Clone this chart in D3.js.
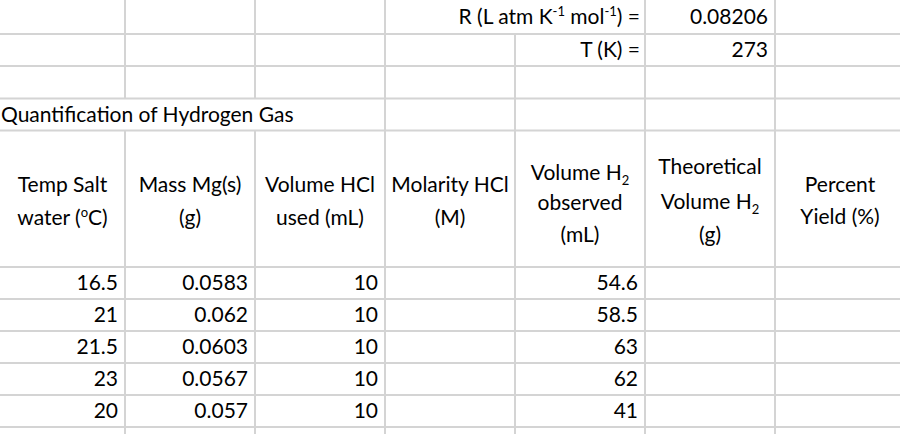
<!DOCTYPE html>
<html>
<head>
<meta charset="utf-8">
<script src="https://cdn.jsdelivr.net/npm/d3@7"></script>
<style>
  body { margin: 0; background: #fff; }
  text { font-family: Lato, "Open Sans", sans-serif; font-size: 21px; fill: #000; }
</style>
</head>
<body>
<svg id="sheet" width="900" height="434"></svg>
<script>
// ---- data ----
const constLabels = [
  [{t: "R (L atm K"}, {t: "-1", sup: true}, {t: " mol"}, {t: "-1", sup: true}, {t: ") ="}],
  [{t: "T (K) ="}]
];
const constValues = ["0.08206", "273"];
const title = "Quantification of Hydrogen Gas";
const headers = [
  [[{t: "Temp Salt"}], [{t: "water ("}, {t: "o", sup: true}, {t: "C)"}]],
  [[{t: "Mass Mg(s)"}], [{t: "(g)"}]],
  [[{t: "Volume HCl"}], [{t: "used (mL)"}]],
  [[{t: "Molarity HCl"}], [{t: "(M)"}]],
  [[{t: "Volume H"}, {t: "2", sub: true}], [{t: "observed"}], [{t: "(mL)"}]],
  [[{t: "Theoretical"}], [{t: "Volume H"}, {t: "2", sub: true}], [{t: "(g)"}]],
  [[{t: "Percent"}], [{t: "Yield (%)"}]]
];
const tempC   = ["16.5", "21", "21.5", "23", "20"];
const massMg  = ["0.0583", "0.062", "0.0603", "0.0567", "0.057"];
const volHCl  = ["10", "10", "10", "10", "10"];
const volH2   = ["54.6", "58.5", "63", "62", "41"];

// ---- layout ----
const svg = d3.select("#sheet");
const colEdges = [0, 125, 255, 385, 515, 645, 775, 905];
const rowEdges = [0, 34, 66, 98.5, 130.5, 267, 299, 331, 363, 395, 427, 459];
const x = i => colEdges[i];
const grid = svg.append("g").attr("stroke", "#d4d4d4").attr("stroke-width", 2);

// horizontal lines
rowEdges.slice(1).forEach(y => grid.append("line").attr("x1", 0).attr("x2", 900).attr("y1", y).attr("y2", y));

// vertical lines per row, skipping merged/overflow spans
const skip = {0: [4], 3: [1, 2]};
for (let r = 0; r < rowEdges.length - 1; r++) {
  for (let c = 1; c < colEdges.length - 1; c++) {
    if ((skip[r] || []).includes(c)) continue;
    grid.append("line").attr("x1", x(c)).attr("x2", x(c)).attr("y1", rowEdges[r]).attr("y2", rowEdges[r + 1]);
  }
}

// text with super/subscript runs; shift is undone on the following run
function rich(sel, parts) {
  let shift = 0;
  parts.forEach(p => {
    const ts = sel.append("tspan").text(p.t);
    const want = p.sup ? -8 : p.sub ? 5 : 0;
    if (want - shift) ts.attr("dy", want - shift);
    if (p.sup || p.sub) ts.attr("font-size", 13);
    shift = want;
  });
}
const mid = r => (rowEdges[r] + rowEdges[r + 1]) / 2;

// constants
constLabels.forEach((lab, i) => {
  rich(svg.append("text").attr("x", x(5) - 5).attr("y", mid(i)).attr("dy", "0.35em").attr("text-anchor", "end"), lab);
  svg.append("text").attr("x", x(6) - 7).attr("y", mid(i)).attr("dy", "0.35em").attr("text-anchor", "end").text(constValues[i]);
});

// title
svg.append("text").attr("x", 1).attr("y", mid(3)).attr("dy", "0.35em").text(title);

// headers
const lineY = [[185, 218], [185, 218], [185, 218], [185, 218], [173, 203, 235], [167, 202, 235], [185, 217]];
headers.forEach((lines, c) => {
  lines.forEach((parts, k) => {
    rich(svg.append("text").attr("x", (x(c) + x(c + 1)) / 2).attr("y", lineY[c][k])
      .attr("dy", "0.35em").attr("text-anchor", "middle"), parts);
  });
});

// data rows
const cols = [[0, tempC], [1, massMg], [2, volHCl], [4, volH2]];
cols.forEach(([c, vals]) => {
  svg.append("g").selectAll("text").data(vals).join("text")
    .attr("x", x(c + 1) - 7)
    .attr("y", (d, i) => mid(5 + i))
    .attr("dy", "0.35em")
    .attr("text-anchor", "end")
    .text(d => d);
});
</script>
</body>
</html>
